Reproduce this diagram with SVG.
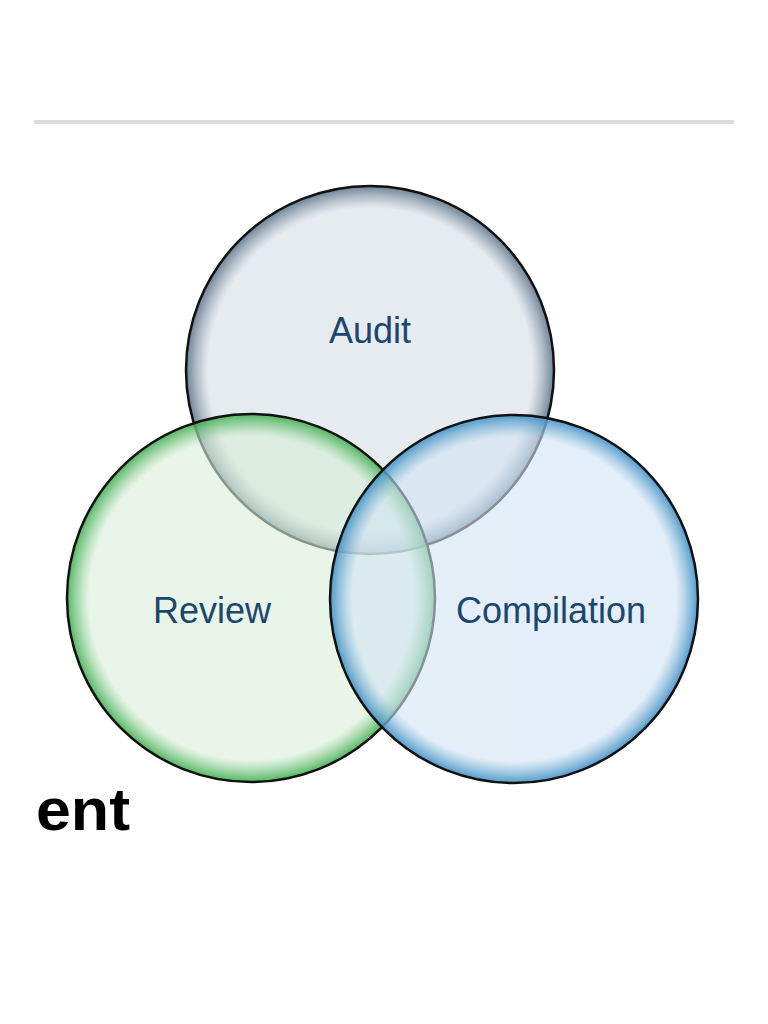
<svg xmlns="http://www.w3.org/2000/svg" width="768" height="1024" viewBox="0 0 768 1024">
<style>
.lbl{font-family:"Liberation Sans",Arial,sans-serif;font-size:36px;fill:#1b4670;text-anchor:middle}
.c{stroke:#111;stroke-width:2.5}
</style>
<defs>
<radialGradient id="gA" cx="50%" cy="50%" r="50%"><stop offset="88%" stop-color="#d6dee6" stop-opacity="0.6"/><stop offset="100%" stop-color="#5d7389" stop-opacity="0.9"/></radialGradient>
<radialGradient id="gR" cx="50%" cy="50%" r="50%"><stop offset="88%" stop-color="#d8eed8" stop-opacity="0.6"/><stop offset="100%" stop-color="#3fae4f" stop-opacity="0.9"/></radialGradient>
<radialGradient id="gC" cx="50%" cy="50%" r="50%"><stop offset="88%" stop-color="#d2e4f4" stop-opacity="0.6"/><stop offset="100%" stop-color="#3d8fc4" stop-opacity="0.9"/></radialGradient>
</defs>
<rect width="768" height="1024" fill="#fff"/>
<line x1="34" y1="122" x2="734" y2="122" stroke="#dcdcdc" stroke-width="4"/>
<text x="36" y="830" font-family="Liberation Sans,Arial,sans-serif" font-weight="bold" font-size="60" fill="#000" textLength="94" lengthAdjust="spacingAndGlyphs">ent</text>
<g id="audit"><circle class="c" cx="370" cy="370" r="184" fill="url(#gA)"/><text class="lbl" x="370" y="343">Audit</text></g>
<g id="review"><circle class="c" cx="251" cy="598" r="184" fill="url(#gR)"/><text class="lbl" x="212" y="623">Review</text></g>
<g id="compilation"><circle class="c" cx="514" cy="599" r="184" fill="url(#gC)"/><text class="lbl" x="551" y="623">Compilation</text></g>
<g id="connectors"/>
</svg>
